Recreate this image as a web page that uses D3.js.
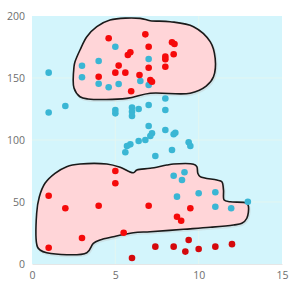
<!DOCTYPE html>
<html>
<head>
<meta charset="utf-8">
<script src="https://cdn.jsdelivr.net/npm/d3@7"></script>
<style>
  body { margin:0; background:#fff; }
  text { font-family:"Open Sans", sans-serif; }
</style>
</head>
<body>
<div id="chart"></div>
<script>
const redTop = [
  [4.6,182],[5.75,168.5],[5.9,170.7],[5.2,160],[5.0,154.3],[5.6,154.3],[6.45,152.4],
  [4.0,151],[5.95,139.3],[6.8,185.2],[7.0,175.2],[8.4,178.8],[8.55,177.4],[8.5,169.1],
  [8.0,167.2],[8.0,165.1],[7.0,158.3],[8.0,159.1],[7.1,148.4],[7.2,147]
];
const redBottom = [
  [5.0,75],[5.0,65.1],[1.0,55.1],[4.0,47],[2.0,44.9],[7.0,47],[9.5,44.9],
  [8.7,38.1],[8.95,34.9],[5.5,25.2],[3.0,21],[1.0,13.1]
];
const redOutside = [
  [6.0,4.8],[7.4,14],[8.5,14],[9.2,10],[9.4,19.4],[10,12.1],[11,14],[12,16]
];
const cyanPts = [
  [5.0,175.2],[3.0,159.9],[4.0,163.7],[3.0,150.6],[4.0,145.4],[4.6,142.5],[5.2,145.2],
  [7.0,165.3],[6.5,147.6],[7.0,144.4],[1.0,154.3],[2.0,127.4],[1.0,122.2],
  [5.0,124.2],[5.0,121.5],[6.0,126.2],[6.0,122.8],[6.0,119.4],[6.4,125],[7.0,128.2],
  [8.0,133.5],[8.0,124.2],[7.0,111.3],[8.0,108.1],[7.2,105.4],[7.1,103.2],[6.8,100],
  [8.6,105.9],[8.5,104.6],[6.4,99.2],[5.9,96.5],[5.7,95.2],[5.6,90.1],[7.4,87.1],
  [8.4,91.9],[9.4,98.1],[9.5,95.2],
  [8.5,71.2],[9.15,74],[9.0,67.7],[8.7,54.3],[10,57],[11,57.9],[11,46.2],[11.95,44.9],[12.95,50.2]
];

// Umrisse der beiden Flächen
const blobTop = [
  [2.52,159.1],[2.52,141.9],[2.88,134.9],[3.36,133.1],[5.69,133.6],[7.09,137.7],[9.49,137.7],
  [10.45,143.5],[10.89,151],[10.99,165.9],[10.69,179.3],[9.69,191.4],[8.29,195.4],
  [7.09,196.2],[6.49,198.1],[4.68,196.8],[3.89,191.4],[3.29,183.3],[2.88,172.6],[2.58,163.1]
];
const blobBottom = [
  [2.88,80.6],[4.49,80.6],[5.29,78],[6.08,73.6],[6.29,75.8],[7.09,77.2],[8.09,79.8],
  [8.49,80.6],[9.69,80.4],[9.89,78.5],[9.95,73.1],[10.09,70.4],[11.09,67.7],[11.39,66.4],
  [11.49,59.7],[11.53,51.6],[11.89,50.2],[12.89,49],[12.99,46.2],[12.89,36.9],[12.59,32.8],
  [12.09,31.5],[10.69,29.6],[9.09,28],[7.09,26],[6.08,25.2],[4.88,22],[4.08,19.4],
  [3.68,16.7],[3.29,9.1],[0.88,9.1],[0.48,11.3],[0.32,14],[0.28,40.9],[0.44,54.3],
  [0.78,65.1],[1.38,73.1],[2.08,78.5]
];

const xTicks = [0,5,10,15];
const yTicks = [0,50,100,150,200];

const W = 300, H = 285;
const x = d3.scaleLinear().domain([0,15]).range([32,282]);
const y = d3.scaleLinear().domain([0,200]).range([264,16]);

const svg = d3.select('#chart').append('svg')
  .attr('width', W).attr('height', H);

// Hintergrund
svg.append('rect')
  .attr('x', x(0)).attr('y', y(200))
  .attr('width', x(15)-x(0)).attr('height', y(0)-y(200))
  .attr('fill', '#d3f5fc');

// Gitter
svg.append('g').selectAll('line').data(xTicks.slice(1,-1)).enter().append('line')
  .attr('x1', d => x(d)).attr('x2', d => x(d))
  .attr('y1', y(200)).attr('y2', y(0))
  .attr('stroke', '#e3f6f1').attr('stroke-width', 1);
svg.append('g').selectAll('line').data(yTicks.slice(1,-1)).enter().append('line')
  .attr('x1', x(0)).attr('x2', x(15))
  .attr('y1', d => y(d)).attr('y2', d => y(d))
  .attr('stroke', '#e3f6f1').attr('stroke-width', 1);

// Achsen (nur Beschriftung)
const ax = svg.append('g').attr('transform', `translate(0,${y(0)})`)
  .call(d3.axisBottom(x).tickValues(xTicks).tickSize(0).tickPadding(8));
ax.select('.domain').attr('stroke', '#e6e6e6');
const ay = svg.append('g').attr('transform', `translate(${x(0)},0)`)
  .call(d3.axisLeft(y).tickValues(yTicks).tickSize(0).tickPadding(7));
ay.select('.domain').remove();
svg.selectAll('.tick text')
  .attr('font-family', '"Open Sans", sans-serif')
  .attr('font-size', 10.5)
  .attr('fill', '#6e6e6e');

// Flächen
const area = d3.line().x(d => x(d[0])).y(d => y(d[1]))
  .curve(d3.curveCatmullRomClosed.alpha(0.5));
[blobTop, blobBottom].forEach(b => {
  svg.append('path').attr('d', area(b))
    .attr('transform', 'translate(0.8,1.2)')
    .attr('fill', 'none').attr('stroke', '#c4c4c4')
    .attr('stroke-width', 2.5).attr('opacity', 0.35);
  svg.append('path').attr('d', area(b))
    .attr('fill', '#ffd5d8')
    .attr('stroke', '#1a1a1a').attr('stroke-width', 1.6);
});

// Punkte
function dots(data, col) {
  svg.append('g').selectAll('circle').data(data).enter().append('circle')
    .attr('cx', d => x(d[0])).attr('cy', d => y(d[1]))
    .attr('r', 3.3).attr('fill', col);
}
dots(cyanPts, '#3ab6d4');
dots(redTop, '#f50a0a');
dots(redBottom, '#f50a0a');
dots(redOutside, '#d4090c');
</script>
</body>
</html>
